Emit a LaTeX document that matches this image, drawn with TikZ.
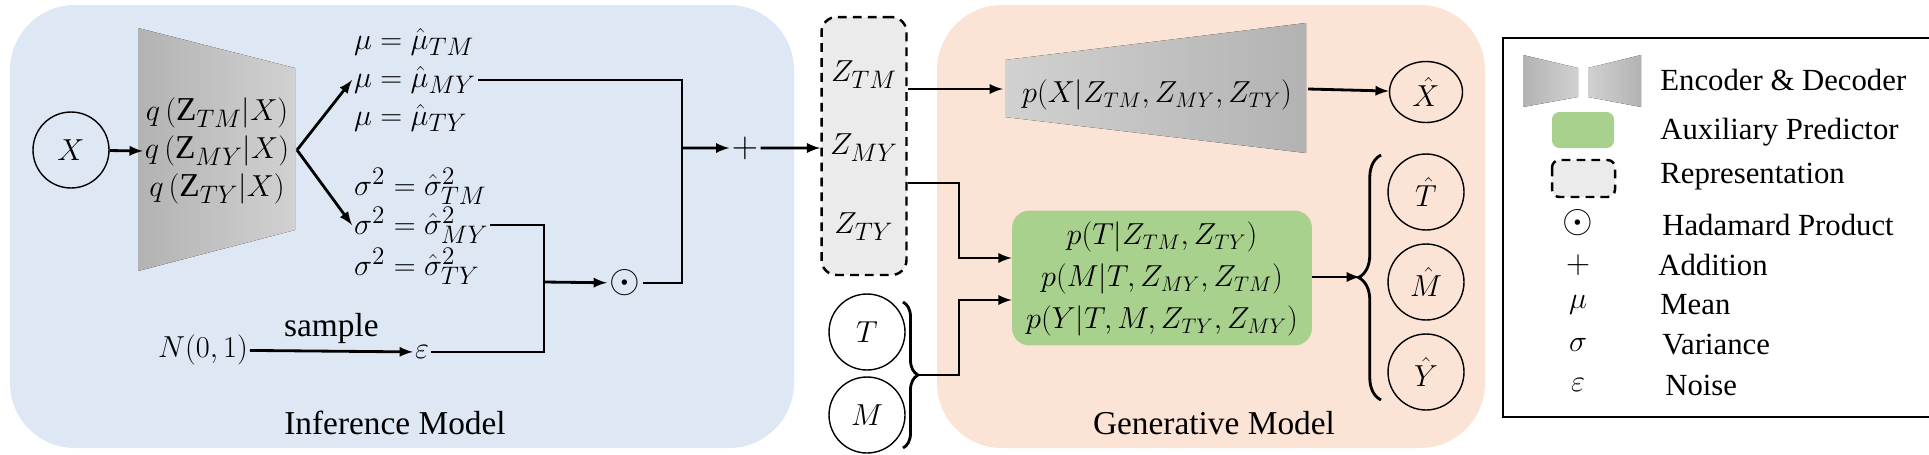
\documentclass[tikz,border=0pt]{standalone}
\usepackage{fontspec}
\setmainfont{Liberation Serif}
\usepackage{tikz}
\usetikzlibrary{shapes.geometric,decorations.pathreplacing}

\definecolor{infblue}{HTML}{DDE8F4}
\definecolor{genorange}{HTML}{FBE3D6}
\definecolor{auxgreen}{HTML}{A9D18E}
\definecolor{repgray}{HTML}{EBEBEB}

\tikzset{
  conn/.style={line width=1.6pt},
  arr/.style={conn,-latex},
  var/.style={circle,draw,thick,minimum size=1.52cm,inner sep=0pt},
  txt/.style={inner sep=1pt},
  gtxt/.style={inner sep=1pt,font=\fontsize{18}{21}\selectfont},
  legtxt/.style={anchor=west,inner sep=0pt,font=\fontsize{17.5}{21}\selectfont},
  repbox/.style={draw, line width=1.4pt, dash pattern=on 5pt off 3.5pt, fill=repgray}
}

\begin{document}
\begin{tikzpicture}[x=0.02cm,y=-0.02cm,font=\fontsize{19}{23}\selectfont]
		\useasboundingbox (0,0) rectangle (1929,454);
		% panels
		\fill[infblue, rounded corners=1.3cm] (10,5) rectangle (794,448);
		\fill[genorange, rounded corners=1.3cm] (937,5) rectangle (1485,448);
		\node at (395,423) {Inference Model};
		\node at (1214,423) {Generative Model};
		% encoder
		\fill[left color=black!30, right color=black!18] (138,28) -- (295,68) -- (295,230) -- (138,271) -- cycle;
		\node[var] (x) at (71,150) {$X$};
		\node[txt] (q1) at (217,113) {$q\,(\mathrm{Z}_{TM}|X)$};
		\node[txt] (q2) at (217,151) {$q\,(\mathrm{Z}_{MY}|X)$};
		\node[txt] (q3) at (217,189) {$q\,(\mathrm{Z}_{TY}|X)$};
		\coordinate (enc) at (297,150);
		\draw[arr] (x) -- (q2.west);
		\node[txt, anchor=west] (mu1) at (352,42) {$\mu=\hat{\mu}_{TM}$};
		\node[txt, anchor=west] (mu2) at (352,80) {$\mu=\hat{\mu}_{MY}$};
		\node[txt, anchor=west] (mu3) at (352,118) {$\mu=\hat{\mu}_{TY}$};
		\node[txt, anchor=west] (sg1) at (352,186) {$\sigma^2=\hat{\sigma}^2_{TM}$};
		\node[txt, anchor=west] (sg2) at (352,225) {$\sigma^2=\hat{\sigma}^2_{MY}$};
		\node[txt, anchor=west] (sg3) at (352,266) {$\sigma^2=\hat{\sigma}^2_{TY}$};
		\draw[arr] (enc) -- (mu2.west);
		\draw[arr] (enc) -- (sg2.west);
		% sampling
		\node[txt] (n01) at (203,350) {$N(0,1)$};
		\node[txt] (eps) at (422,352) {$\varepsilon$};
		\draw[arr] (n01) -- node[above] {sample} (eps);
		\node[txt, scale=1.3] (hada) at (625,283) {$\odot$};
		\coordinate (mj) at (544,282);
		\draw[conn] (sg2.east) -| (mj);
		\draw[conn] (eps) -| (mj);
		\draw[arr] (mj) -- (hada);
		\coordinate (sj) at (682,148);
		\node[txt, scale=1.2] (plus) at (745,148) {$+$};
		\draw[conn] (mu2.east) -| (sj);
		\draw[conn] (hada) -| (sj);
		\draw[arr] (sj) -- (plus);
		% representation
		\node[repbox, rounded corners=0.3cm, minimum width=1.7cm, minimum height=5.16cm] (rep) at (864,146) {};
		\node[txt] (ztm) at (864,75) {$Z_{TM}$};
		\node[txt] (zmy) at (864,148) {$Z_{MY}$};
		\node[txt] (zty) at (864,227) {$Z_{TY}$};
		\draw[arr] (plus) -- (rep.west |- zmy);
		% decoder
		\fill[left color=black!18, right color=black!30] (1005,60) -- (1306,23) -- (1306,153) -- (1005,117) -- cycle;
		\node[gtxt] (dec) at (1157,95) {$p(X|Z_{TM},Z_{MY},Z_{TY})$};
		\node[draw, thick, ellipse, minimum width=1.46cm, minimum height=1.22cm, inner sep=0pt] (xhat) at (1426,92) {$\hat{X}$};
		\draw[arr] (rep.east |- 0,89) -- (1003,89);
		\draw[arr] (1308,89) -- (xhat);
		% auxiliary predictor
		\node[fill=auxgreen, rounded corners=0.35cm, minimum width=6cm, minimum height=2.7cm] (aux) at (1162,278) {};
		\node[gtxt] (pt) at (1162,237) {$p(T|Z_{TM},Z_{TY})$};
		\node[gtxt] (pm) at (1162,279) {$p(M|T,Z_{MY},Z_{TM})$};
		\node[gtxt] (py) at (1162,321) {$p(Y|T,M,Z_{TY},Z_{MY})$};
		\draw[arr] (rep.east |- 0,183) -| (959,258) -- (aux.west |- 0,258);
		\node[var] (t) at (867,332) {$T$};
		\node[var] (m) at (867,415) {$M$};
		\draw[conn, decorate, decoration={brace,amplitude=0.3cm}] (903,302) -- (903,448);
		\coordinate (tmtip) at (918,375);
		\draw[arr] (tmtip) -| (959,300) -- (aux.west |- 0,300);
		% outputs
		\node[var] (that) at (1426,192) {$\hat{T}$};
		\node[var] (mhat) at (1426,282) {$\hat{M}$};
		\node[var] (yhat) at (1426,372) {$\hat{Y}$};
		\draw[conn, decorate, decoration={brace,amplitude=0.45cm}] (1381,400) -- (1381,155);
		\coordinate (outtip) at (1360,277);
		\draw[arr] (aux.east |- outtip) -- (outtip);
		% legend
		\draw[thick] (1503,38) rectangle (1940,417);
		\fill[left color=black!30, right color=black!18] (1523,55) -- (1578,68) -- (1578,97) -- (1523,107) -- cycle;
		\fill[left color=black!18, right color=black!30] (1588,68) -- (1641,55) -- (1641,107) -- (1588,97) -- cycle;
		\fill[auxgreen, rounded corners=0.15cm] (1552,112) rectangle (1614,148);
		\draw[repbox, rounded corners=0.15cm] (1552,160) rectangle (1615,197);
		\node[scale=1.3] at (1578,223) {$\odot$};
		\node[scale=1.1] at (1578,265) {$+$};
		\node at (1578,305) {$\mu$};
		\node at (1578,345) {$\sigma$};
		\node at (1578,385) {$\varepsilon$};
		\node[legtxt] at (1660,80) {Encoder \& Decoder};
		\node[legtxt] at (1660,132) {Auxiliary Predictor};
		\node[legtxt] at (1660,177) {Representation};
		\node[legtxt] at (1662,225) {Hadamard Product};
		\node[legtxt] at (1658,265) {Addition};
		\node[legtxt] at (1660,305) {Mean};
		\node[legtxt] at (1662,345) {Variance};
		\node[legtxt] at (1665,385) {Noise};
\end{tikzpicture}
\end{document}
